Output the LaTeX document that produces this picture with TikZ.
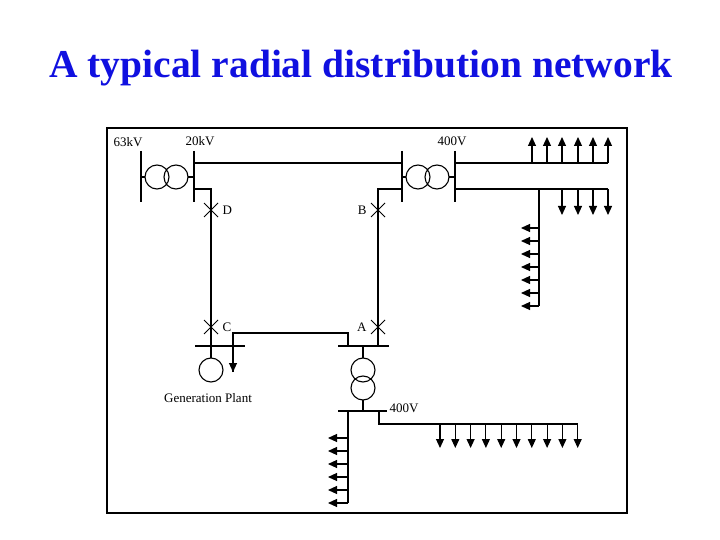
\documentclass[tikz,border=0pt]{standalone}
\usepackage{fontspec}
\setmainfont{Liberation Serif}
\usetikzlibrary{arrows.meta}
\definecolor{title_blue}{HTML}{1010e0}

\begin{document}
\begin{tikzpicture}[x=1pt, y=-1pt, line width=1.1pt, >={Triangle[length=9pt,width=8pt]},
    bus/.style={line width=1.6pt},
    lbl/.style={font=\fontsize{13}{14}\selectfont, inner sep=1pt},
    brk/.style={line width=1pt}]
  \useasboundingbox (0,0) rectangle (720,540);

  \node[title_blue, font=\fontsize{39.5}{42}\selectfont\bfseries] (title) at (361,68) {A typical radial distribution network};
  \draw[line width=1.4pt] (107,128) rectangle (627,513);

  % buses
  \draw[bus] (141,151) -- (141,202);
  \draw[bus] (194,151) -- (194,202);
  \draw[bus] (402,151) -- (402,202);
  \draw[bus] (455,151) -- (455,202);
  \draw[bus] (195,346) -- (245,346);
  \draw[bus] (338,346) -- (389,346);
  \draw[bus] (338,411) -- (387,411);

  \node[lbl] (kv63) at (128,142) {63kV};
  \node[lbl] (kv20) at (200,141) {20kV};
  \node[lbl] (v400a) at (452,141) {400V};
  \node[lbl, anchor=west] (v400b) at (388,408) {400V};

  % transformers
  \draw (157,177) circle (12) (176,177) circle (12);
  \draw (141,177) -- (145,177) (188,177) -- (194,177);
  \draw (418,177) circle (12) (437,177) circle (12);
  \draw (402,177) -- (406,177) (449,177) -- (455,177);
  \draw (363,370) circle (12) (363,388) circle (12);
  \draw (363,346) -- (363,358) (363,400) -- (363,411);

  % feeders
  \draw (194,163) -- (402,163);
  \draw (194,189) -- (211,189) -- (211,346);
  \draw (402,189) -- (378,189) -- (378,346);
  \draw (233,372) -- (233,333) -- (348,333) -- (348,346);
  \draw[->] (233,346) -- (233,372);

  % generation plant
  \draw (211,346) -- (211,358);
  \draw (211,370) circle (12);
  \node[lbl] (gen) at (208,398) {Generation Plant};

  % breakers
  \foreach \x/\y/\name/\side in {211/210/D/right, 211/327/C/right, 378/210/B/left, 378/327/A/left}{
    \draw[brk] (\x-7,\y-7) -- (\x+7,\y+7) (\x-7,\y+7) -- (\x+7,\y-7);
    \node[lbl, \side=10pt] at (\x,\y) {\name};
  }

  % loads
  \draw (455,163) -- (608,163);
  \foreach \x in {532,547,562,578,593,608}
    \draw[->] (\x,163) -- (\x,137);
  \draw (455,189) -- (608,189);
  \foreach \x in {562,578,593,608}
    \draw[->] (\x,189) -- (\x,215);
  \draw (539,189) -- (539,306);
  \foreach \y in {228,241,254,267,280,293,306}
    \draw[->] (539,\y) -- (521,\y);

  \draw (379,411) -- (379,424) -- (578,424);
  \foreach \x in {440,455.3,...,580}
    \draw[->] (\x,424) -- (\x,448);
  \draw (348,411) -- (348,503);
  \foreach \y in {438,451,464,477,490,503}
    \draw[->] (348,\y) -- (328,\y);
\end{tikzpicture}
\end{document}
